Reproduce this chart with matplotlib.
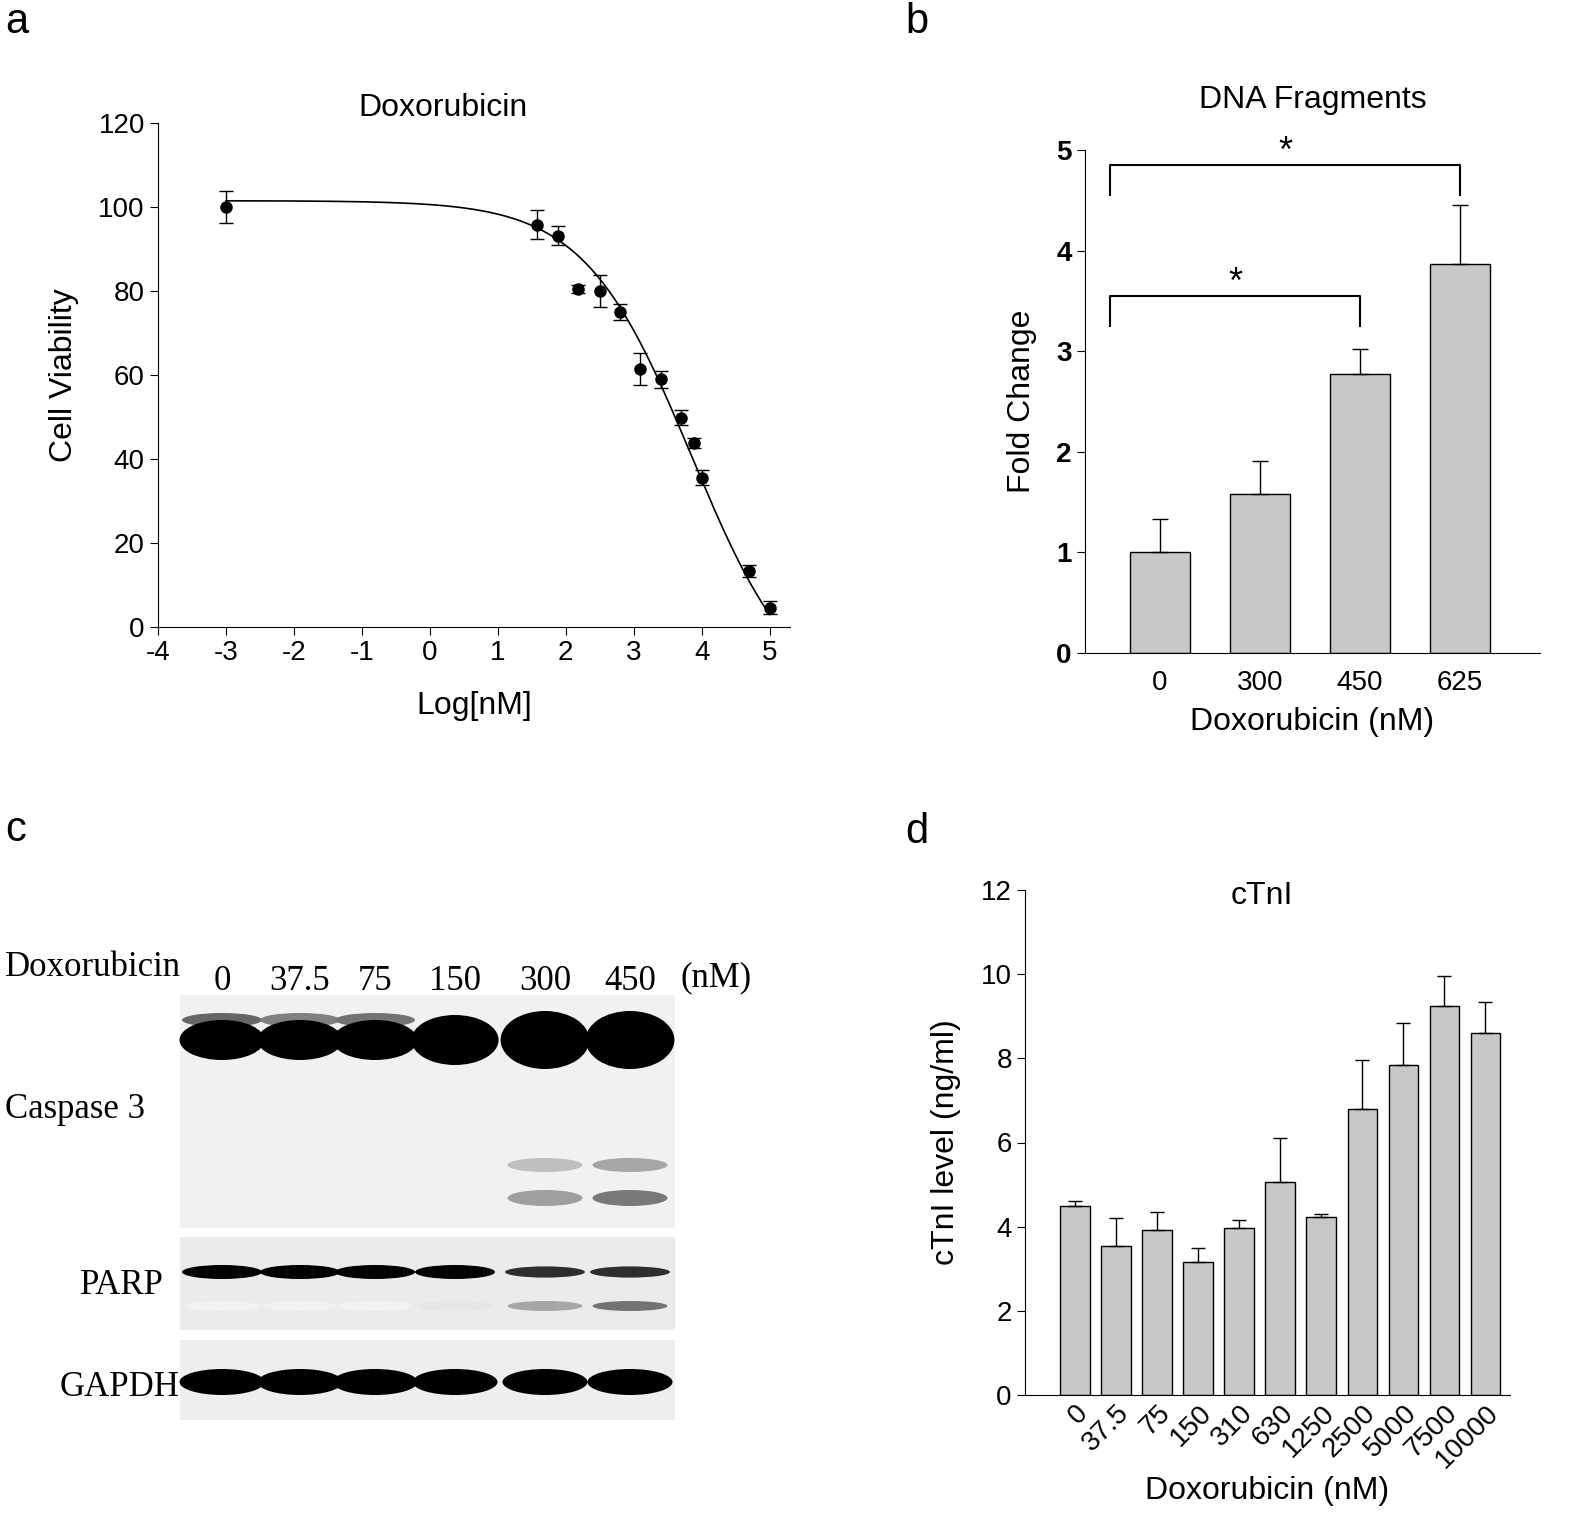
import numpy as np
import matplotlib
matplotlib.use("Agg")
import matplotlib.pyplot as plt
from matplotlib.patches import Ellipse, Rectangle

plt.rcParams["font.family"] = ["Liberation Sans", "DejaVu Sans"]
plt.rcParams["axes.unicode_minus"] = False

# ---------------- data ----------------
# panel a: dose response
log_nm = [-3, 1.58, 1.88, 2.18, 2.5, 2.8, 3.1, 3.4, 3.7, 3.88, 4.0, 4.7, 5.0]
viability = [100, 95.8, 93.2, 80.5, 80, 75, 61.5, 59, 49.8, 43.8, 35.5, 13.3, 4.6]
viability_err = [3.8, 3.5, 2.2, 1.0, 3.8, 1.8, 3.8, 2.0, 1.8, 1.2, 1.8, 1.5, 1.5]
fit_top, fit_bottom, fit_logic50, fit_hill = 101.5, -20, 3.85, 0.55

# panel b: DNA fragments
b_labels = ["0", "300", "450", "625"]
b_fold = [1.0, 1.58, 2.77, 3.87]
b_err = [0.33, 0.33, 0.25, 0.58]

# panel c: blot lanes
c_lanes = ["0", "37.5", "75", "150", "300", "450"]
casp_main = [1.0, 1.0, 1.0, 1.25, 1.45, 1.45]
casp_upper = [0.6, 0.5, 0.55, 0.0, 0.0, 0.0]
casp_cleaved = [0.0, 0.0, 0.0, 0.0, 0.25, 0.35]
parp_full = [1.0, 1.0, 1.0, 1.0, 0.8, 0.8]
parp_cleaved = [0.05, 0.05, 0.05, 0.1, 0.35, 0.55]
gapdh = [1.0, 1.0, 1.0, 1.0, 1.0, 1.0]

# panel d: cTnI
d_labels = ["0", "37.5", "75", "150", "310", "630", "1250", "2500", "5000", "7500", "10000"]
d_level = [4.5, 3.55, 3.93, 3.15, 3.97, 5.05, 4.22, 6.8, 7.83, 9.25, 8.6]
d_err = [0.1, 0.65, 0.42, 0.35, 0.2, 1.05, 0.08, 1.15, 1.0, 0.7, 0.75]

W, H = 1575, 1520
fig = plt.figure(figsize=(W / 100, H / 100), dpi=100)


def px_axes(x0, y0, x1, y1, **kw):
    return fig.add_axes([x0 / W, 1 - y1 / H, (x1 - x0) / W, (y1 - y0) / H], **kw)


def style(ax):
    ax.spines["top"].set_visible(False)
    ax.spines["right"].set_visible(False)
    ax.tick_params(labelsize=20, length=6)


# ---------------- a ----------------
ax = px_axes(158, 123, 790, 627)
style(ax)
xs = np.linspace(-3, 5, 300)
ax.plot(xs, fit_bottom + (fit_top - fit_bottom) / (1 + 10 ** (fit_hill * (xs - fit_logic50))),
        color="black", lw=1.2)
ax.errorbar(log_nm, viability, yerr=viability_err, fmt="o", color="black",
            ms=8, capsize=5, elinewidth=1, capthick=1)
ax.set_xlim(-4, 5.3)
ax.set_ylim(0, 120)
ax.set_xticks(range(-4, 6))
ax.set_yticks(range(0, 121, 20))
ax.set_xlabel("Log[nM]", fontsize=23, labelpad=18)
ax.set_ylabel("Cell Viability", fontsize=23, labelpad=14)
ax.text(0.2, 123.5, "Doxorubicin", fontsize=23, ha="center", va="center", clip_on=False)
fig.text(5 / W, 1 - 22 / H, "a", fontsize=30, va="center")

# ---------------- b ----------------
ax = px_axes(1085, 150, 1540, 653)
style(ax)
xb = np.arange(len(b_labels))
ax.bar(xb, b_fold, width=0.6, color="#c8c8c8", edgecolor="black", lw=1,
       yerr=[[0] * 4, b_err], capsize=6, error_kw=dict(elinewidth=1, capthick=1))
ax.set_xlim(-0.75, 3.8)
ax.set_ylim(0, 5)
ax.set_xticks(xb, b_labels)
ax.tick_params(axis="x", length=0, pad=12)
for t in ax.get_yticklabels():
    t.set_fontweight("bold")
ax.set_xlabel("Doxorubicin (nM)", fontsize=23, labelpad=8)
ax.set_ylabel("Fold Change", fontsize=23, labelpad=14)
ax.set_title("DNA Fragments", fontsize=23, pad=30)
for x_end, y_top, y_low in [(3, 4.85, 4.55), (2, 3.55, 3.25)]:
    ax.plot([-0.5, -0.5, x_end, x_end], [y_low, y_top, y_top, y_low], color="black", lw=1.5)
    ax.text((x_end - 0.5) / 2, y_top - 0.05, "*", fontsize=26, ha="center", va="bottom")
fig.text(905 / W, 1 - 22 / H, "b", fontsize=30, va="center")

# ---------------- c ----------------
axc = px_axes(0, 940, 700, 1440)
axc.set_xlim(0, 700)
axc.set_ylim(1440, 940)
axc.axis("off")
lane_x = [222, 300, 375, 455, 545, 630]
for y0, y1, bg in [(995, 1228, "#f1f1f1"), (1237, 1330, "#ebebeb"), (1340, 1420, "#eeeeee")]:
    axc.add_patch(Rectangle((180, y0), 495, y1 - y0, color=bg, lw=0))


def band(x, y, w, h, inten):
    if inten <= 0:
        return
    g = max(0.0, 1 - inten)
    axc.add_patch(Ellipse((x, y), w, h, color=str(g), lw=0))


for i, x in enumerate(lane_x):
    band(x, 1020, 80, 14, casp_upper[i])
    band(x, 1040, 85 * (1 + 0.1 * (casp_main[i] - 1)), 40 * casp_main[i], 1.0)
    band(x, 1165, 75, 14, casp_cleaved[i])
    band(x, 1198, 75, 16, casp_cleaved[i] * 1.5)
    band(x, 1272, 80, 14 * parp_full[i], 0.9 * parp_full[i] + 0.1)
    band(x, 1306, 75, 10, parp_cleaved[i])
    band(x, 1382, 85, 26, gapdh[i])
    axc.text(x, 982, c_lanes[i], fontsize=25, family=["Liberation Serif"], ha="center", va="center")
axc.text(680, 978, "(nM)", fontsize=25, family=["Liberation Serif"], va="center")
axc.text(5, 968, "Doxorubicin", fontsize=25, family=["Liberation Serif"], va="center")
axc.text(5, 1110, "Caspase 3", fontsize=25, family=["Liberation Serif"], va="center")
axc.text(80, 1285, "PARP", fontsize=25, family=["Liberation Serif"], va="center")
axc.text(60, 1388, "GAPDH", fontsize=25, family=["Liberation Serif"], va="center")
fig.text(5 / W, 1 - 830 / H, "c", fontsize=30, va="center")

# ---------------- d ----------------
ax = px_axes(1025, 890, 1510, 1395)
style(ax)
xd = np.arange(len(d_labels))
ax.bar(xd, d_level, width=0.72, color="#c8c8c8", edgecolor="black", lw=1,
       yerr=[[0] * len(d_err), d_err], capsize=5, error_kw=dict(elinewidth=1, capthick=1))
ax.set_xlim(-1.22, 10.6)
ax.set_ylim(0, 12)
ax.set_yticks(range(0, 13, 2))
ax.set_xticks(xd, d_labels, rotation=45, ha="right", rotation_mode="anchor")
ax.tick_params(axis="x", length=0)
ax.set_xlabel("Doxorubicin (nM)", fontsize=23, labelpad=2)
ax.set_ylabel("cTnI level (ng/ml)", fontsize=23, labelpad=14)
ax.text(4.56, 11.85, "cTnI", fontsize=23, ha="center", va="center")
fig.text(905 / W, 1 - 832 / H, "d", fontsize=30, va="center")

fig.savefig("out.png", dpi=100)
